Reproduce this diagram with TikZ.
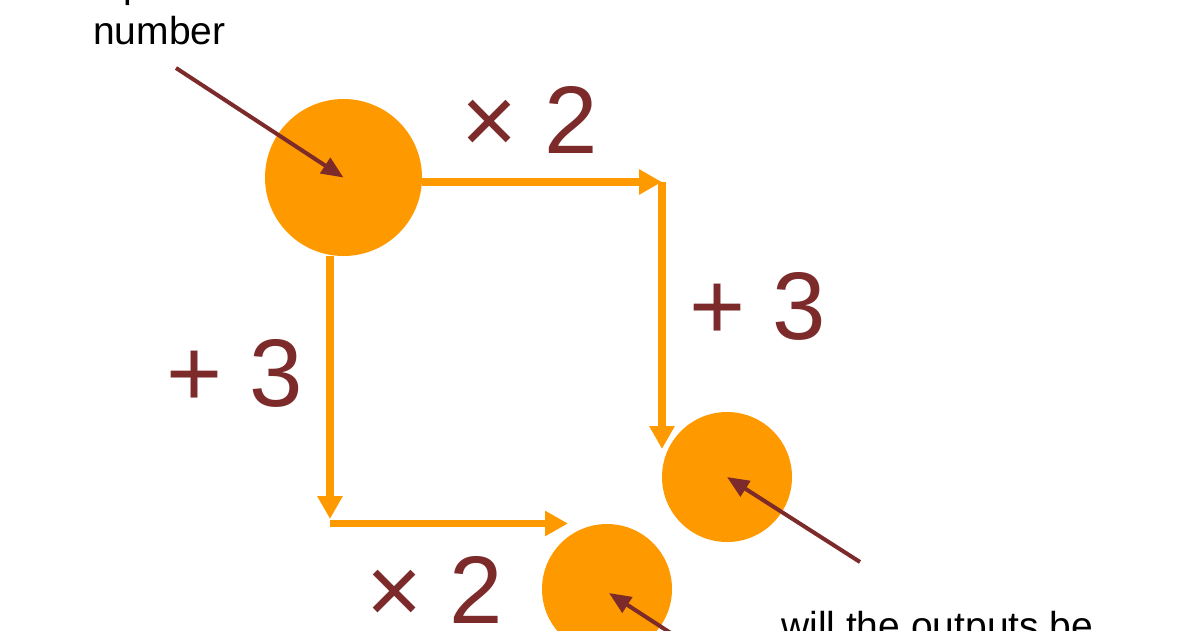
\documentclass[tikz,border=0pt]{standalone}
\usepackage{fontspec}
\setmainfont{Liberation Sans}
\usetikzlibrary{arrows.meta}
\definecolor{ballorange}{RGB}{255,153,0}
\definecolor{opred}{RGB}{124,42,42}

\begin{document}
\begin{tikzpicture}[x=1pt, y=-1pt,
		ball/.style={circle, fill=ballorange, inner sep=0pt},
		flow/.style={draw=ballorange, line width=7.5pt, -{Triangle[length=23pt, width=24pt]}},
		pointer/.style={draw=opred, line width=4pt, -{Triangle[length=22pt, width=18pt]}},
		oplabel/.style={text=opred, font=\fontsize{96}{110}\selectfont, inner sep=0pt},
		note/.style={font=\fontsize{39}{47}\selectfont, inner sep=0pt, anchor=base west}]
	% page, pixel units
	\useasboundingbox[fill=white] (0,0) rectangle (1200,630);
	% circles: name / x / y / diameter
	\def\balls {inp/343.5/177.5/157, outr/727/477/130, outb/607/589/130};
	\foreach \name/\x/\y/\size in \balls
	{
		\node[ball, minimum size=\size pt] (\name) at (\x,\y) {};
	}
	% corners and free ends of the orange arrows
	\coordinate (topturn)  at (662,182);
	\coordinate (rightend) at (662,449);
	\coordinate (leftend)  at (330,519);
	\coordinate (lowturn)  at (330,523.5);
	\coordinate (lowend)   at (568,523.5);
	% orange arrows
	\draw[flow] (inp.east |- topturn)  % times 2 first
		-- (topturn);
	\draw[flow] (topturn)
		-- (rightend);
	\draw[flow] (leftend |- inp.south)  % plus 3 first
		-- (leftend);
	\draw[flow] (lowturn)
		-- (lowend);
	% operation labels
	\node[oplabel] (toptimes)  at (529.5,120) {× 2};
	\node[oplabel] (rightplus) at (758,306.5) {+ 3};
	\node[oplabel] (leftplus)  at (235,373)   {+ 3};
	\node[oplabel] (lowtimes)  at (434.5,590) {× 2};
	% notes
	\node[note] (inpnote)  at (93,-3) {input};
	\node[note] (numnote)  at (93,44) {number};
	\node[note] (outnote)  at (781,639) {will the outputs be};
	% pointers
	\coordinate (inptail)  at (176,68);
	\coordinate (outrtail) at (860,562);
	\coordinate (outbtail) at (700,652);
	\draw[pointer] (inptail) -- (inp.center);
	\draw[pointer] (outrtail) -- (outr.center);
	\draw[pointer] (outbtail) -- ([shift={(2,4)}]outb.center);
\end{tikzpicture}
\end{document}
